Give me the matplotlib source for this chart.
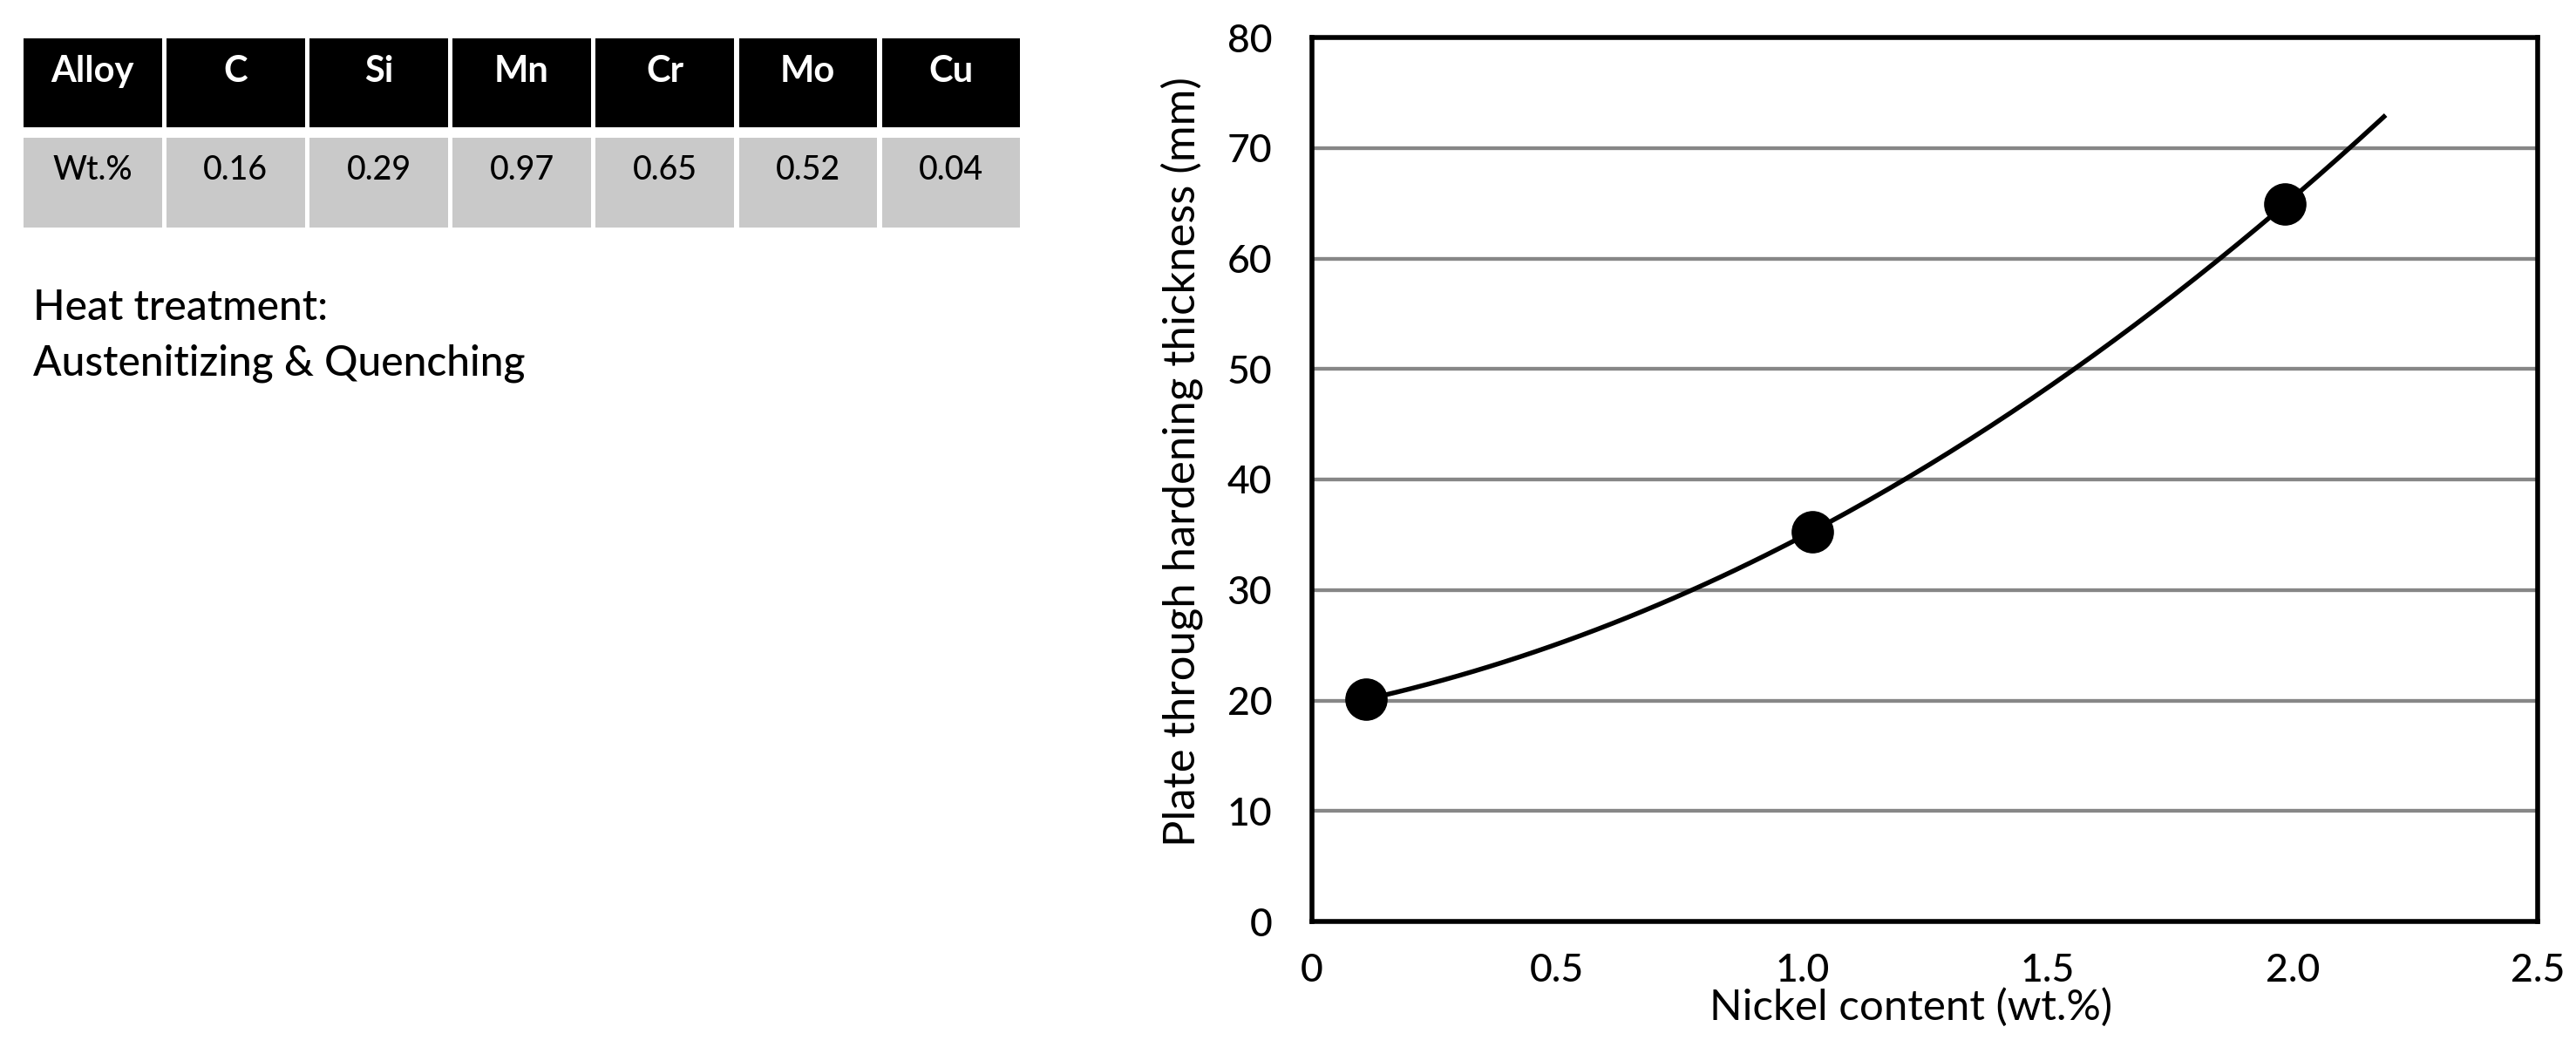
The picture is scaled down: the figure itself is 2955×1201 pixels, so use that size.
import numpy as np
import matplotlib.pyplot as plt
from matplotlib.patches import Rectangle

plt.rcParams['font.family'] = ['Lato', 'DejaVu Sans']
plt.rcParams['font.weight'] = 'medium'

# ── data ──────────────────────────────────────────
elements = ['Alloy', 'C', 'Si', 'Mn', 'Cr', 'Mo', 'Cu']
wt_pct = ['Wt.%', '0.16', '0.29', '0.97', '0.65', '0.52', '0.04']

ni_content = [0.11, 1.02, 1.985]       # wt.%
thickness = [20.1, 35.3, 64.9]         # mm
trend_end = 2.19                       # trendline forecast end

x_ticks = [0, 0.5, 1.0, 1.5, 2.0, 2.5]
x_tick_labels = ['0', '0.5', '1.0', '1.5', '2.0', '2.5']
y_ticks = [0, 10, 20, 30, 40, 50, 60, 70, 80]

W, H = 2955, 1201
fig = plt.figure(figsize=(W / 100, H / 100), dpi=100)

# ── table + note (pixel coordinates) ──────────────
bg = fig.add_axes([0, 0, 1, 1])
bg.set_xlim(0, W)
bg.set_ylim(H, 0)
bg.axis('off')

col_x0, col_w, col_gap = 27, 158.5, 5.6
rows = [(44, 102, '#000000', 'white', 'bold', 30, elements),
        (158, 103, '#c9c9c9', 'black', 'medium', 27, wt_pct)]
for top, h, face, tcol, weight, fs, labels in rows:
    for i, lab in enumerate(labels):
        x0 = col_x0 + i * (col_w + col_gap)
        bg.add_patch(Rectangle((x0, top), col_w, h, facecolor=face, edgecolor='none'))
        bg.text(x0 + col_w / 2, top + 38, lab, color=tcol, fontsize=fs,
                fontweight=weight, ha='center', va='center')

bg.text(38, 353, 'Heat treatment:', fontsize=34.5, va='center', ha='left')
bg.text(38, 417, 'Austenitizing & Quenching', fontsize=34.5, va='center', ha='left')

# ── chart ─────────────────────────────────────────
ax = fig.add_axes([1505 / W, 1 - 1057 / H, (2911 - 1505) / W, (1057 - 43) / H])

coef = np.polyfit(ni_content, thickness, 2)
xs = np.linspace(ni_content[0], trend_end, 200)
ax.plot(xs, np.polyval(coef, xs), color='black', linewidth=3.9, zorder=3,
        solid_capstyle='butt')
ax.plot(ni_content, thickness, 'o', color='black', markersize=34, zorder=4)

ax.set_xlim(0, 2.5)
ax.set_ylim(0, 80)
ax.set_xticks(x_ticks)
ax.set_xticklabels(x_tick_labels)
ax.set_yticks(y_ticks)
ax.tick_params(length=0, labelsize=32, pad=0)
ax.tick_params(axis='x', pad=26)
ax.tick_params(axis='y', pad=33)
ax.yaxis.grid(True, color='#878787', linewidth=3.1)
ax.set_axisbelow(True)
for s in ax.spines.values():
    s.set_linewidth(4.0)
    s.set_color('black')

ax.set_xlabel('Nickel content (wt.%)', fontsize=35.5)
ax.set_ylabel('Plate through hardening thickness (mm)', fontsize=36.5)
ax.xaxis.set_label_coords(0.489, -0.075)
ax.yaxis.set_label_coords(-0.089, 0.52)

fig.savefig('out.png', dpi=100)
